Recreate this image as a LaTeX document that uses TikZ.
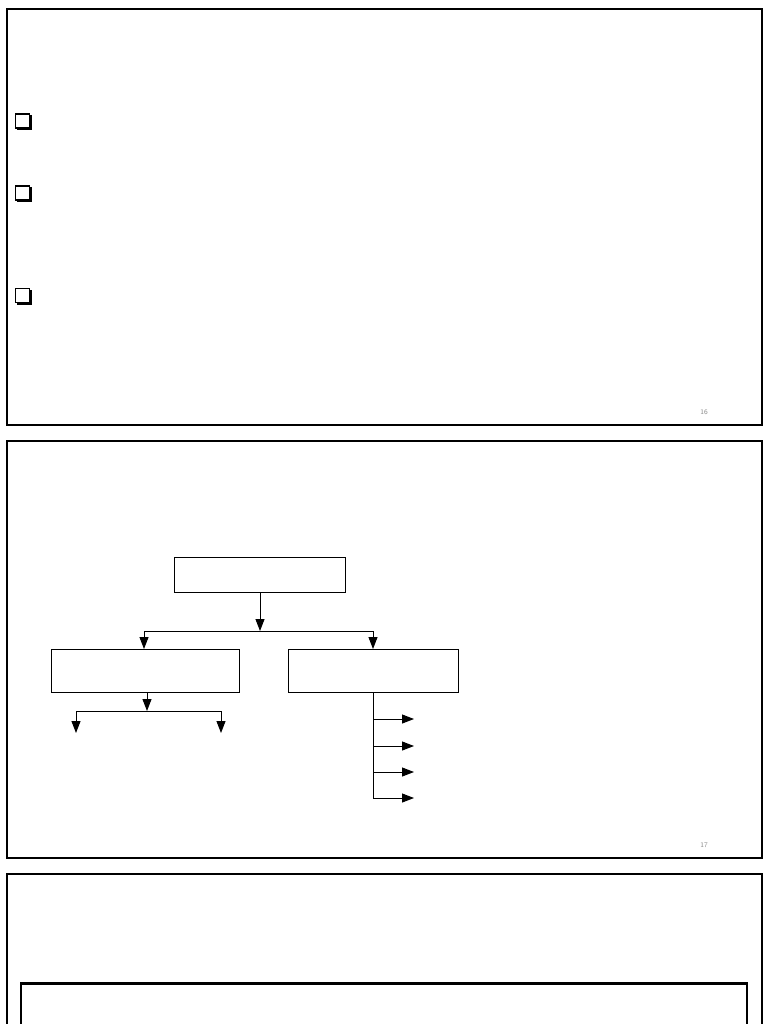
\documentclass[tikz,border=0pt]{standalone}
\usetikzlibrary{arrows.meta,positioning}
\begin{document}
\begin{tikzpicture}[x=1pt,y=-1pt,
  slide/.style={draw=black,line width=1.8pt,rectangle,anchor=north west,inner sep=0pt},
  bx/.style={draw=black,line width=1pt,rectangle,inner sep=0pt,anchor=north west},
  conn/.style={draw=black,line width=1pt},
  arr/.style={conn,-{Triangle[length=12pt,width=9pt]}},
  chk/.style={draw=black,line width=1.1pt,fill=white,minimum width=14pt,minimum height=14pt,inner sep=0pt,anchor=north west},
  shd/.style={fill=black},
  pnum/.style={font=\sffamily\fontsize{7}{7}\selectfont,text=black!45,inner sep=0pt}
]
\useasboundingbox (0,0) rectangle (768,1024);
\fill[white] (0,0) rectangle (768,1024);
% slide frames
\node[slide,minimum width=755pt,minimum height=416pt] (s1) at (6,8) {};
\node[slide,minimum width=755pt,minimum height=417pt] (s2) at (6,440) {};
\node[slide,minimum width=755pt,minimum height=200pt] (s3) at (6,873) {};
\node[slide,minimum width=726pt,minimum height=100pt] (s3in) at (20,983) {};
\draw[line width=1.2pt] (s3in.north west) -- (s3in.north east);
% check boxes
\fill[shd] (16.5,115.5) rectangle (31.5,130.5);
\fill[shd] (16.5,187.5) rectangle (31.5,202.5);
\fill[shd] (16.5,289.5) rectangle (31.5,304.5);
\node[chk] (c1) at (14.5,113.5) {};
\node[chk] (c2) at (14.5,185.5) {};
\node[chk] (c3) at (14.5,287.5) {};
% page numbers
\node[pnum] (p16) at (704,412) {16};
\node[pnum] (p17) at (704,845) {17};
% diagram
\node[bx,minimum width=171pt,minimum height=35pt] (top) at (174,557) {};
\node[bx,minimum width=188pt,minimum height=43pt] (left) at (51,649) {};
\node[bx,minimum width=170pt,minimum height=43pt] (right) at (288,649) {};
\coordinate (j1) at (260,631);
\coordinate (hl) at (144,631);
\coordinate (hr) at (373,631);
\draw[arr] (top.south -| j1) -- (j1);
\draw[conn] (hl) -- (hr);
\draw[arr] (hl) -- (hl |- left.north);
\draw[arr] (hr) -- (hr |- right.north);
% left children
\coordinate (j2) at (147,711);
\coordinate (ll) at (76,711);
\coordinate (lr) at (221,711);
\coordinate (lle) at (76,733);
\coordinate (lre) at (221,733);
\draw[arr] (left.south -| j2) -- (j2);
\draw[conn] (ll) -- (lr);
\draw[arr] (ll) -- (lle);
\draw[arr] (lr) -- (lre);
% right children
\coordinate (r0) at (373,692);
\coordinate (r1) at (373,719);
\coordinate (r2) at (373,746);
\coordinate (r3) at (373,772);
\coordinate (r4) at (373,798);
\coordinate (e1) at (414,719);
\coordinate (e2) at (414,746);
\coordinate (e3) at (414,772);
\coordinate (e4) at (414,798);
\draw[conn] (right.south -| r0) -- (r4);
\draw[arr] (r1) -- (e1);
\draw[arr] (r2) -- (e2);
\draw[arr] (r3) -- (e3);
\draw[arr] (r4) -- (e4);
\end{tikzpicture}
\end{document}
